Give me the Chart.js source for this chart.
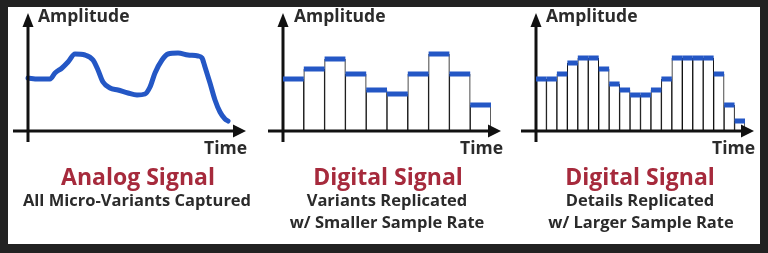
<!DOCTYPE html>
<html><head><meta charset="utf-8">
<script src="https://cdn.jsdelivr.net/npm/chart.js@4.4.1/dist/chart.umd.min.js"></script>
<style>
html,body{margin:0;padding:0;background:#222;width:768px;height:253px;overflow:hidden;font-family:"Open Sans",sans-serif;}
#panel{position:absolute;left:8px;top:7px;width:752px;height:237px;background:#fff;}
canvas{position:absolute;top:0px;}
.t{position:absolute;white-space:nowrap;color:#2b2b2b;font-weight:700;line-height:1;}
.ax{font-size:17.5px;transform:translateY(-50%);}
.tm{font-size:17.5px;transform:translate(-100%,-50%);}
.ttl{font-size:23px;font-weight:700;color:#a62a3c;transform:translate(-50%,-50%);}
.sub{font-size:16.5px;transform:translate(-50%,-50%);}
</style></head>
<body>
<div id="panel"></div>
<canvas id="c1" width="250" height="160" style="left:8px;width:250px;height:160px"></canvas>
<canvas id="c2" width="252" height="160" style="left:258px;width:252px;height:160px"></canvas>
<canvas id="c3" width="250" height="160" style="left:510px;width:250px;height:160px"></canvas>

<div class="t ax" style="left:38px;top:16px">Amplitude</div>
<div class="t ax" style="left:294px;top:16px">Amplitude</div>
<div class="t ax" style="left:546px;top:16px">Amplitude</div>
<div class="t tm" style="left:247px;top:148px">Time</div>
<div class="t tm" style="left:503px;top:148px">Time</div>
<div class="t tm" style="left:755px;top:148px">Time</div>
<div class="t ttl" style="left:138px;top:176px">Analog Signal</div>
<div class="t ttl" style="left:388px;top:176px">Digital Signal</div>
<div class="t ttl" style="left:640px;top:176px">Digital Signal</div>
<div class="t sub" style="left:137px;top:200px">All Micro-Variants Captured</div>
<div class="t sub" style="left:387px;top:200px">Variants Replicated</div>
<div class="t sub" style="left:387px;top:222px">w/ Smaller Sample Rate</div>
<div class="t sub" style="left:640px;top:200px">Details Replicated</div>
<div class="t sub" style="left:641px;top:222px">w/ Larger Sample Rate</div>

<script>
// ---- data ----
const analogTime = [0,10,22,27,34,40,47,57,65,70,75,82,90,100,109,117,122,127,134,140,150,160,170,174,177,182,187,192,197,200];
const analogAmp  = [53,52,52,58,63,69,77,76,71,61,49,43,41,38,36,37,44,58,71,77,78,76,75,73,64,48,31,19,12,10];
const smallRateSamples = [52,62,72,57,41,37,57,77,57,26];
const largeRateSamples = [52,52,57,68,73,73,62,47,41,36,36,41,52,73,73,73,73,57,26,10];
const smallRateLabels = smallRateSamples.map((_, i) => 'S' + (i + 1));
const largeRateLabels = largeRateSamples.map((_, i) => 'S' + (i + 1));

const BLUE = '#2457c5';
const INK = '#111';

const axesPlugin = {
  id: 'axesArrows',
  afterDatasetsDraw(chart) {
    const ctx = chart.ctx;
    const ox = chart.chartArea.left;
    const oy = chart.scales.y.getPixelForValue(0);
    ctx.save();
    ctx.strokeStyle = INK; ctx.fillStyle = INK; ctx.lineWidth = 3;
    // y axis
    ctx.beginPath(); ctx.moveTo(ox, oy + 11); ctx.lineTo(ox, 26); ctx.stroke();
    ctx.beginPath(); ctx.moveTo(ox, 13); ctx.lineTo(ox - 5.5, 27); ctx.lineTo(ox + 5.5, 27); ctx.closePath(); ctx.fill();
    // x axis
    const tip = ox + 218;
    ctx.beginPath(); ctx.moveTo(ox - 15, oy); ctx.lineTo(tip - 10, oy); ctx.stroke();
    ctx.beginPath(); ctx.moveTo(tip, oy); ctx.lineTo(tip - 13, oy - 6.5); ctx.lineTo(tip - 13, oy + 6.5); ctx.closePath(); ctx.fill();
    // blue caps on bars
    if (chart.config.type === 'bar') {
      ctx.fillStyle = BLUE;
      chart.getDatasetMeta(0).data.forEach(el => {
        const p = el.getProps(['x', 'y', 'width'], true);
        ctx.fillRect(p.x - p.width / 2, p.y - 2.5, p.width, 5);
      });
    }
    ctx.restore();
  }
};

const common = {
  responsive: false, animation: false, events: [],
  plugins: { legend: { display: false }, tooltip: { enabled: false } }
};

new Chart(document.getElementById('c1'), {
  type: 'line',
  data: { datasets: [{
    data: analogTime.map((t, i) => ({ x: t, y: analogAmp[i] })),
    borderColor: BLUE, borderWidth: 5, pointRadius: 0,
    cubicInterpolationMode: 'monotone', borderCapStyle: 'round', borderJoinStyle: 'round', clip: false
  }]},
  options: Object.assign({}, common, {
    layout: { padding: { left: 20, right: 30, top: 31, bottom: 29 } },
    scales: {
      x: { type: 'linear', min: 0, max: 200, display: false },
      y: { min: 0, max: 100, display: false }
    }
  }),
  plugins: [axesPlugin]
});

function barChart(id, labels, values, pad) {
  return new Chart(document.getElementById(id), {
    type: 'bar',
    data: { labels, datasets: [{
      data: values, backgroundColor: '#fff', borderColor: INK,
      borderWidth: { left: 1, right: 1, top: 0, bottom: 0 }, borderSkipped: false,
      barPercentage: 1, categoryPercentage: 1
    }]},
    options: Object.assign({}, common, {
      layout: { padding: pad },
      scales: {
        x: { display: false },
        y: { min: 0, max: 100, display: false }
      }
    }),
    plugins: [axesPlugin]
  });
}
barChart('c2', smallRateLabels, smallRateSamples, { left: 25, right: 19, top: 31, bottom: 29 });
barChart('c3', largeRateLabels, largeRateSamples, { left: 26, right: 15, top: 31, bottom: 29 });
</script>
</body></html>
